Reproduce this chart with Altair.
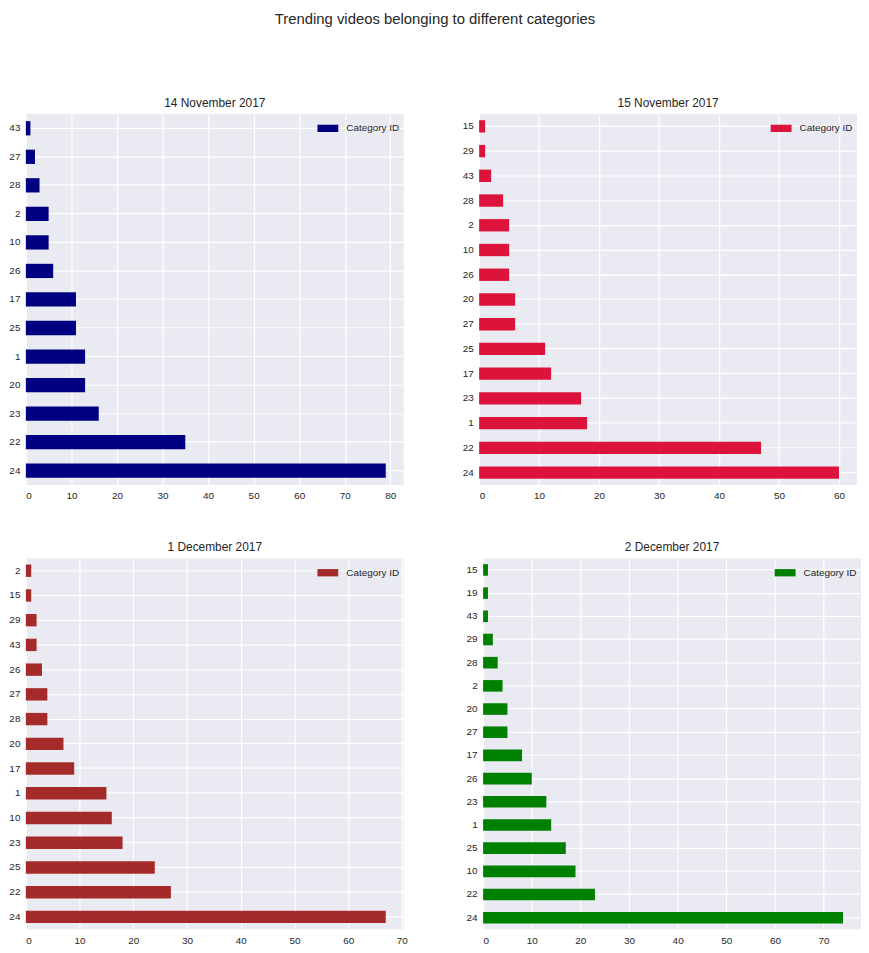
import altair as alt
import pandas as pd

FONT = "Liberation Sans"
TEXT = "#262626"

main_title = "Trending videos belonging to different categories"
legend_label = "Category ID"

titles = ["14 November 2017", "15 November 2017", "1 December 2017", "2 December 2017"]
colors = ["#000080", "#DC143C", "#A52A2A", "#008000"]

cats1 = ["43", "27", "28", "2", "10", "26", "17", "25", "1", "20", "23", "22", "24"]
vals1 = [1, 2, 3, 5, 5, 6, 11, 11, 13, 13, 16, 35, 79]

cats2 = ["15", "29", "43", "28", "2", "10", "26", "20", "27", "25", "17", "23", "1", "22", "24"]
vals2 = [1, 1, 2, 4, 5, 5, 5, 6, 6, 11, 12, 17, 18, 47, 60]

cats3 = ["2", "15", "29", "43", "26", "27", "28", "20", "17", "1", "10", "23", "25", "22", "24"]
vals3 = [1, 1, 2, 2, 3, 4, 4, 7, 9, 15, 16, 18, 24, 27, 67]

cats4 = ["15", "19", "43", "29", "28", "2", "20", "27", "17", "26", "23", "1", "25", "10", "22", "24"]
vals4 = [1, 1, 1, 2, 3, 4, 5, 5, 8, 10, 13, 14, 17, 19, 23, 74]

W, H = 381, 374


def panel(cats, vals, color, title):
    df = pd.DataFrame({"cat": cats, "count": vals, "series": legend_label})
    xmax = max(vals) * 1.05
    ticks = list(range(0, int(xmax) + 1, 10))
    return (
        alt.Chart(df)
        .mark_bar()
        .encode(
            y=alt.Y(
                "cat:N",
                sort=cats,
                scale=alt.Scale(paddingInner=0.5, paddingOuter=0.25),
                axis=alt.Axis(title=None, bandPosition=0.5, labelAngle=0),
            ),
            x=alt.X(
                "count:Q",
                scale=alt.Scale(domain=[0, xmax], nice=False, zero=True),
                axis=alt.Axis(title=None, values=ticks),
            ),
            color=alt.Color(
                "series:N",
                scale=alt.Scale(domain=[legend_label], range=[color]),
                legend=alt.Legend(
                    title=None,
                    orient="top-right",
                    offset=4,
                    padding=0,
                    symbolType="M-1,-0.35H1V0.35H-1Z",
                    symbolSize=441,
                    symbolStrokeWidth=0,
                    symbolOpacity=1,
                    labelFont=FONT,
                    labelFontSize=10,
                    labelColor=TEXT,
                    labelOffset=8,
                ),
            ),
        )
        .properties(
            width=W,
            height=H,
            title=alt.Title(title, fontSize=12, fontWeight="normal", font=FONT, color=TEXT, offset=4),
        )
    )


p1 = panel(cats1, vals1, colors[0], titles[0])
p2 = panel(cats2, vals2, colors[1], titles[1])
p3 = panel(cats3, vals3, colors[2], titles[2])
p4 = panel(cats4, vals4, colors[3], titles[3])

chart = (
    alt.vconcat(
        alt.hconcat(p1, p2, spacing=58).resolve_scale(color="independent", x="independent", y="independent"),
        alt.hconcat(p3, p4, spacing=58).resolve_scale(color="independent", x="independent", y="independent"),
        spacing=41,
    )
    .resolve_scale(color="independent", x="independent", y="independent")
    .properties(
        title=alt.Title(main_title, fontSize=15, fontWeight="normal", font=FONT, color=TEXT,
                        anchor="middle", offset=71)
    )
    .configure(padding=0)
    .configure_view(fill="#EAEAF2", stroke=None)
    .configure_axis(
        grid=True,
        gridColor="#FFFFFF",
        gridWidth=1.2,
        gridOpacity=1,
        domain=False,
        ticks=False,
        labelFont=FONT,
        labelFontSize=10,
        labelColor=TEXT,
        labelPadding=6,
    )
)

chart.save("out.html", embed_options={"renderer": "svg", "actions": False})
